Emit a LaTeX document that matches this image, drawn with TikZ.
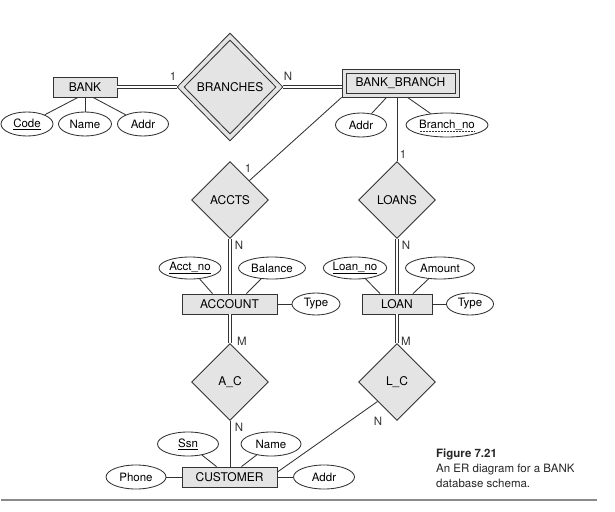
\documentclass[tikz,border=0pt]{standalone}
\usepackage{fontspec}
\setmainfont{TeX Gyre Heros}
\usetikzlibrary{shapes.geometric,calc}
\definecolor{lc}{HTML}{333333}
\definecolor{fc}{HTML}{E4E4E4}
\definecolor{rulec}{HTML}{8A8A8A}
\begin{document}
\begin{tikzpicture}[x=1pt,y=-1pt,
  ent/.style={draw=lc, fill=fc, rectangle, minimum height=20, inner sep=0, line width=0.85, font=\fontsize{12}{14}\selectfont},
  attr/.style={draw=lc, fill=white, ellipse, minimum height=24, inner sep=0, line width=0.85, font=\fontsize{11.5}{13}\selectfont},
  rel/.style={draw=lc, fill=fc, diamond, minimum width=77, minimum height=77, inner sep=0, line width=0.85, font=\fontsize{12}{14}\selectfont},
  conn/.style={draw=lc, line width=0.85},
  dbl/.style={draw=lc, double=white, double distance=2.2, line width=0.85},
  card/.style={font=\fontsize{11.5}{13}\selectfont, inner sep=0, text=lc},
  captext/.style={font=\fontsize{11.5}{13}\selectfont, inner sep=0, anchor=base west, text=black!85}]
\useasboundingbox (0,0) rectangle (615,511);

% BANK
\node[ent, minimum width=64] (bank) at (85,87) {BANK};
\node[attr, minimum width=52] (code) at (27,124) {\underline{Code}};
\node[attr, minimum width=53] (bname) at (85,124) {Name};
\node[attr, minimum width=51] (baddr) at (143,124) {Addr};

% BRANCHES
\node[draw=lc, fill=fc, diamond, minimum width=106, minimum height=108, inner sep=0, line width=0.85] (branchesO) at (230,87) {};
\node[rel, minimum width=92, minimum height=94] (branches) at (230,87) {BRANCHES};

% BANK_BRANCH
\node[ent, minimum width=117, minimum height=28] (bbO) at (400.5,83) {};
\node[ent, minimum width=109, minimum height=20] (bb) at (400.5,83) {BANK\_BRANCH};
\node[attr, minimum width=51] (bbaddr) at (361,125) {Addr};
\node[attr, minimum width=82] (branchno) at (447,125) {Branch\_no};
\draw[conn, dashed, dash pattern=on 2pt off 1pt] ([xshift=-27.5pt,yshift=-6pt]branchno.center) -- ([xshift=27.5pt,yshift=-6pt]branchno.center);

% ACCTS / LOANS
\node[rel] (accts) at (230,200) {ACCTS};
\node[rel] (loans) at (397,200) {LOANS};

% ACCOUNT
\node[ent, minimum width=95] (account) at (229.5,304) {ACCOUNT};
\node[attr, minimum width=62, minimum height=22] (acctno) at (190,268) {\underline{Acct\_no}};
\node[attr, minimum width=67, minimum height=22] (balance) at (272,268) {Balance};
\node[attr, minimum width=48, minimum height=22] (atype) at (316,304) {Type};

% LOAN
\node[ent, minimum width=70] (loan) at (397,304) {LOAN};
\node[attr, minimum width=56, minimum height=22] (loanno) at (355,268) {\underline{Loan\_no}};
\node[attr, minimum width=69, minimum height=22] (amount) at (440,268) {Amount};
\node[attr, minimum width=47, minimum height=22] (ltype) at (470,304) {Type};

% A_C / L_C
\node[rel] (ac) at (230,382) {A\_C};
\node[rel] (lc) at (397,382) {L\_C};

% CUSTOMER
\node[ent, minimum width=95] (cust) at (229.5,477) {CUSTOMER};
\node[attr, minimum width=61] (ssn) at (188,444) {\underline{Ssn}};
\node[attr, minimum width=60] (cname) at (271,444) {Name};
\node[attr, minimum width=60] (phone) at (136,477) {Phone};
\node[attr, minimum width=61] (caddr) at (324,477) {Addr};

% connectors
\draw[conn] ([xshift=-7pt]bank.south) -- (code);
\draw[conn] (bank.south) -- (bname);
\draw[conn] ([xshift=8pt]bank.south) -- (baddr);
\draw[dbl] (bank.east) -- (branchesO.west);
\draw[dbl] (branchesO.east) -- (bbO.west |- branchesO.east);
\draw[conn] ([xshift=-14pt]bbO.south) -- (bbaddr);
\draw[conn] ([xshift=7pt]bbO.south) -- (branchno);
\draw[conn] (loans.north) -- (loans.north |- bbO.south);
\draw[conn] (bbO.south west) -- (accts.north east);

\draw[dbl] (accts.south) -- (accts.south |- account.north);
\draw[dbl] (account.south -| ac.north) -- (ac.north);
\draw[dbl] (loans.south) -- (loan.north);
\draw[dbl] (loan.south) -- (lc.north);
\draw[conn] ([xshift=-17pt]account.north) -- (acctno);
\draw[conn] ([xshift=17pt]account.north) -- (balance);
\draw[conn] (account.east) -- (atype);
\draw[conn] ([xshift=-17pt]loan.north) -- (loanno);
\draw[conn] ([xshift=16pt]loan.north) -- (amount);
\draw[conn] (loan.east) -- (ltype);
\draw[lc, line width=1.6] (loan.north east) -- (loan.south east);

\draw[conn] (ac.south) -- (ac.south |- cust.north);
\draw[conn] (lc.south west) -- ([yshift=5pt]cust.east);
\draw[conn] ([xshift=-13pt]cust.north) -- (ssn);
\draw[conn] ([xshift=12pt]cust.north) -- (cname);
\draw[conn] (phone) -- (cust.west);
\draw[conn] (cust.east) -- (caddr);

% cardinalities
\node[card] (c1) at (173,76) {1};
\node[card] (c2) at (288,76) {N};
\node[card] (c3) at (248,168) {1};
\node[card] (c4) at (403,154) {1};
\node[card] (c5) at (239,245) {N};
\node[card] (c6) at (406,245) {N};
\node[card] (c7) at (242,341) {M};
\node[card] (c8) at (406,341) {M};
\node[card] (c9) at (239,427) {N};
\node[card] (c10) at (378,421) {N};

% caption
\node[captext, font=\bfseries\fontsize{11.5}{13}\selectfont] (fig) at (436,457) {Figure 7.21};
\node[captext] (cap1) at (436,472) {An ER diagram for a BANK};
\node[captext] (cap2) at (436,487) {database schema.};

\draw[rulec, line width=2] (1,500) -- (597,500);
\end{tikzpicture}
\end{document}
